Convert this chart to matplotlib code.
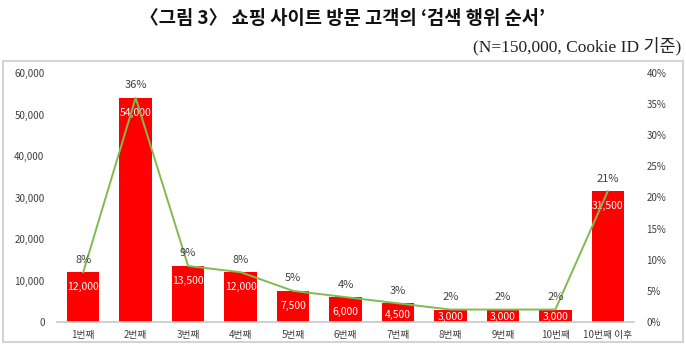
import numpy as np
import matplotlib.pyplot as plt
from matplotlib.patches import Rectangle
from matplotlib.ticker import FuncFormatter

plt.rcParams['font.family'] = ['Noto Sans CJK KR', 'DejaVu Sans']

# 검색 순서별 방문 고객 수
categories = ['1번째', '2번째', '3번째', '4번째', '5번째', '6번째',
              '7번째', '8번째', '9번째', '10번째', '10번째 이후']
counts = [12000, 54000, 13500, 12000, 7500, 6000, 4500, 3000, 3000, 3000, 31500]
shares = [8, 36, 9, 8, 5, 4, 3, 2, 2, 2, 21]

fig = plt.figure(figsize=(6.86, 3.47), dpi=100)
W, H = 686, 347

# 차트 테두리
fig.patches.append(Rectangle((3 / W, 1 - 342 / H), 680 / W, 281 / H,
                             transform=fig.transFigure, fill=False,
                             edgecolor='#d4d4d4', linewidth=1.5))

fig.text(0.5, 1 - 19 / H, '〈그림 3〉 쇼핑 사이트 방문 고객의 ‘검색 행위 순서’',
         ha='center', va='center', fontsize=13.5, fontweight='bold', color='#111111')
fig.text(681 / W, 1 - 46 / H, '(N=150,000, Cookie ID 기준)',
         ha='right', va='center', fontsize=12.5, color='#222222',
         family=['Liberation Serif', 'Noto Sans CJK KR'])

ax = fig.add_axes([57 / W, 1 - 322 / H, 577 / W, 249 / H])
x = np.arange(len(categories))
ax.bar(x, counts, width=0.62, color='#ff0000')
ax.set_xlim(-0.5, len(categories) - 0.5)
ax.set_ylim(0, 60000)
ax.set_yticks(np.arange(0, 60001, 10000))
ax.yaxis.set_major_formatter(FuncFormatter(lambda v, p: f'{int(v):,}'))
ax.set_xticks(x)
ax.set_xticklabels(categories)
ax.tick_params(axis='both', length=0, labelsize=7, colors='#404040')
ax.tick_params(axis='y', pad=9)
ax.tick_params(axis='x', pad=6)
for s in ['top', 'right', 'left']:
    ax.spines[s].set_visible(False)
ax.spines['bottom'].set_color('#c8c8c8')
ax.spines['bottom'].set_linewidth(1.2)

# 막대 안쪽 값 표시 (낮은 막대는 막대 안에 들어가도록)
px_per_unit = 249 / 60000
for xi, c in zip(x, counts):
    off = min(15, c * px_per_unit * 0.6)
    ax.annotate(f'{c:,}', (xi, c), xytext=(0, -off), textcoords='offset pixels',
                ha='center', va='center', fontsize=7.5, color='white')

ax2 = ax.twinx()
ax2.plot(x, shares, color='#80bb4e', linewidth=1.4)
ax2.set_ylim(0, 40)
ax2.set_yticks(np.arange(0, 41, 5))
ax2.yaxis.set_major_formatter(FuncFormatter(lambda v, p: f'{int(v)}%'))
ax2.tick_params(axis='y', length=0, labelsize=7, colors='#404040', pad=9)
for s in ['top', 'right', 'left', 'bottom']:
    ax2.spines[s].set_visible(False)

for xi, s in zip(x, shares):
    ax2.annotate(f'{s}%', (xi, s), xytext=(0, 9), textcoords='offset points',
                 ha='center', va='center', fontsize=8, color='#404040')

fig.savefig('out.png', dpi=100)
